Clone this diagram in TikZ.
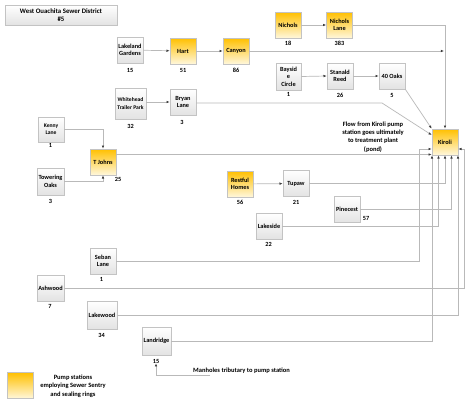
\documentclass[tikz,border=0pt]{standalone}
\usepackage{fontspec}
\setmainfont{Carlito}
\usetikzlibrary{arrows.meta,shadows,calc}
\definecolor{pumpY}{RGB}{255,192,0}
\definecolor{pumpL}{RGB}{255,247,220}
\definecolor{lineG}{RGB}{185,185,185}
\definecolor{boxG}{RGB}{195,195,195}
\definecolor{tipG}{RGB}{60,60,60}
\begin{document}
\begin{tikzpicture}[x=1pt,y=-1pt,
 box/.style={draw=boxG, line width=0.6pt, top color=white, bottom color=black!11,
   minimum width=26pt, minimum height=26pt, inner sep=0.5pt, align=center,
   font=\fontsize{6.3}{7.6}\selectfont\bfseries,
   drop shadow={shadow xshift=0.8pt,shadow yshift=-0.8pt,fill=black!30,opacity=0.5}},
 pump/.style={box, top color=pumpY, bottom color=pumpL},
 num/.style={font=\fontsize{6.3}{7.6}\selectfont\bfseries, inner sep=0pt},
 conn/.style={draw=lineG, line width=0.7pt, -{Latex[length=3.2pt,width=2.6pt,color=tipG]}},
 note/.style={align=center, font=\fontsize{6.5}{8.3}\selectfont\bfseries, inner sep=0pt}]
\fill[white] (0,0) rectangle (474,407);
\useasboundingbox (0,0) rectangle (474,407);

% title
\node[box,minimum width=112pt,minimum height=20pt,font=\fontsize{6.8}{8}\selectfont\bfseries] (title) at (61,15) {West Ouachita Sewer District\\\#5};

% stations
\node[box] (lakeland) at (130,50) {Lakeland\\Gardens};
\node[num] (n-lakeland) at (130,70) {15};
\node[pump] (hart) at (183,51) {Hart};
\node[num] (n-hart) at (183,70) {51};
\node[pump] (canyon) at (236,51) {Canyon};
\node[num] (n-canyon) at (236,70) {86};
\node[pump] (nichols) at (288,25) {Nichols};
\node[num] (n-nichols) at (288,43) {18};
\node[pump] (nlane) at (339.5,25) {Nichols\\Lane};
\node[num] (n-nlane) at (339.5,43) {383};
\node[box,minimum width=25pt,minimum height=27pt] (bayside) at (288.5,76.5) {Baysid\\e\\Circle};
\node[num] (n-bayside) at (288.5,94) {1};
\node[box] (stanald) at (340,76) {Stanald\\Reed};
\node[num] (n-stanald) at (340,95) {26};
\node[box] (oaks) at (392,76) {40 Oaks};
\node[num] (n-oaks) at (392,95) {5};
\node[box,minimum width=31pt,minimum height=31pt,font=\fontsize{5.6}{7.2}\selectfont\bfseries] (white) at (130.5,103.5) {Whitehead\\Trailer Park};
\node[num] (n-white) at (130.5,126) {32};
\node[box] (bryan) at (183,102) {Bryan\\Lane};
\node[num] (n-bryan) at (182,122) {3};
\node[box,minimum width=26pt,minimum height=25pt,font=\fontsize{5.6}{7.2}\selectfont\bfseries] (kenny) at (51,129.5) {Kenny\\Lane};
\node[num] (n-kenny) at (50.5,145.5) {1};
\node[pump] (tjohns) at (103,162) {T Johns};
\node[num] (n-tjohns) at (118,179) {25};
\node[box,minimum width=27pt,minimum height=27pt] (tower) at (50.5,181.5) {Towering\\Oaks};
\node[num] (n-tower) at (50.5,201) {3};
\node[pump] (kiroli) at (445,142) {Kiroli};
\node[pump] (restful) at (240,184) {Restful\\Homes};
\node[num] (n-restful) at (240,202) {56};
\node[box] (tupaw) at (296,183.5) {Tupaw};
\node[num] (n-tupaw) at (296,202) {21};
\node[box] (pine) at (347,209.5) {Pinecest};
\node[num] (n-pine) at (366,218) {57};
\node[box] (lakeside) at (269,226) {Lakeside};
\node[num] (n-lakeside) at (268.5,244) {22};
\node[box] (seban) at (103,261) {Seban\\Lane};
\node[num] (n-seban) at (101.5,279) {1};
\node[box,minimum width=27pt] (ashwood) at (50.5,288) {Ashwood};
\node[num] (n-ashwood) at (50,306) {7};
\node[box,minimum width=30pt,minimum height=28pt] (lakewood) at (102,315) {Lakewood};
\node[num] (n-lakewood) at (101.5,335) {34};
\node[box,minimum width=29pt,minimum height=28pt] (landridge) at (156.5,341) {Landridge};
\node[num] (n-landridge) at (156,361) {15};

% notes and legend
\node[note] (flow) at (373,137) {Flow from Kiroli pump\\station goes ultimately\\to treatment plant\\(pond)};
\node[pump] (legbox) at (20,385.5) {};
\node[note] (legtext) at (73,386) {Pump stations\\employing Sewer Sentry\\and sealing rings};
\node[note,anchor=west] (manholes) at (193,371) {Manholes tributary to pump station};

% helper coordinates
\coordinate (cj) at (444,51);
\coordinate (bb) at (382,103);
\coordinate (sb) at (419,149);
\coordinate (ab) at (464,149);
\coordinate (mh) at (210,375);

% connectors
\draw[conn] (lakeland) -- (hart);
\draw[conn] (hart) -- (canyon);
\draw[conn] (canyon.east) -- (cj);
\draw[conn] (nichols) -- (nlane);
\draw[conn] (nlane.east) -| (kiroli.north);
\draw[conn] (bayside.east) -- (stanald.west);
\draw[conn] (stanald) -- (oaks);
\draw[conn] (oaks.south east) -- (kiroli.north west);
\draw[conn] (white.east |- bryan.east) -- (bryan.west);
\draw[conn] (bryan.east |- bb) -- (bb) -- ([yshift=7pt]kiroli.west);
\draw[conn] (kenny.east) -| (tjohns.north);
\draw[conn] (tower.east) -| (tjohns.south);
\draw[conn] ([yshift=7.5pt]tjohns.east) -- ([yshift=7.5pt]tjohns.east -| kiroli.west);
\draw[conn] (restful) -- (tupaw);
\draw[conn] (tupaw.east) -| (kiroli.south);
\draw[conn] (pine.east) -| ([xshift=6.5pt]kiroli.south);
\draw[conn] (lakeside.east) -| ([xshift=-6.5pt]kiroli.south);
\draw[conn] (seban.east) -| (sb) -- (sb -| kiroli.west);
\draw[conn] (ashwood.east) -| (ab) -- (ab -| kiroli.east);
\draw[conn] (lakewood.east) -| ([xshift=13pt]kiroli.south);
\draw[conn] (landridge.east) -| ([xshift=-13pt]kiroli.south);
\draw[conn] (mh) -| (n-landridge.south);
\end{tikzpicture}
\end{document}
